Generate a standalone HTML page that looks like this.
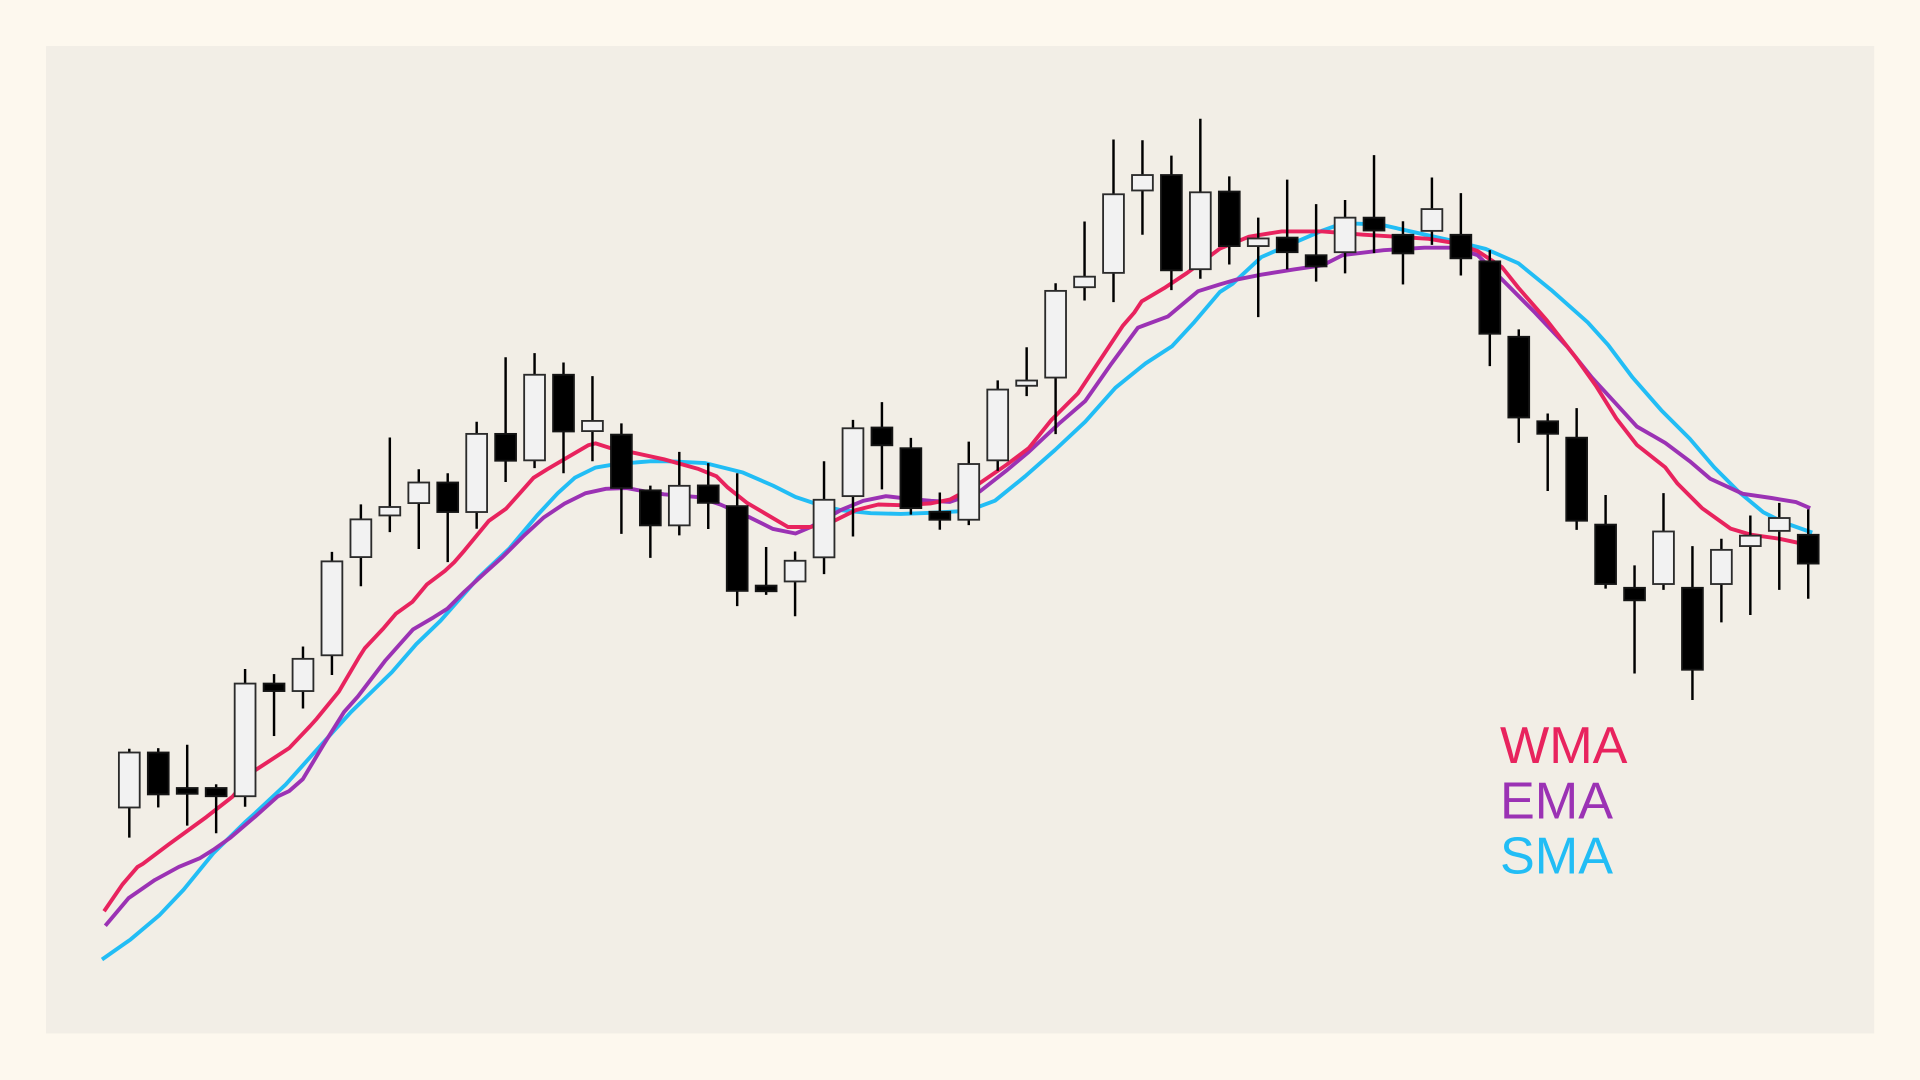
<!DOCTYPE html>
<html>
<head>
<meta charset="utf-8">
<style>
html,body{margin:0;padding:0;background:#fdf8ee;}
svg{display:block;}
.wk{stroke:#000;stroke-width:2;}
.w{fill:#f2f2f2;stroke:#2b2b2b;stroke-width:1.5;}
.b{fill:#000;stroke:#151515;stroke-width:1.5;}
.ma{fill:none;stroke-width:3.2;stroke-linejoin:round;stroke-linecap:butt;}
.lg{font-family:"Liberation Sans",sans-serif;font-size:42.6px;}
</style>
</head>
<body>
<svg width="1920" height="1080" viewBox="0 0 1568 882" xmlns="http://www.w3.org/2000/svg">
<rect x="0" y="0" width="1568" height="882" fill="#fdf8ee"/>
<rect x="37.6" y="37.6" width="1493" height="806.4" fill="#f2eee6"/>

<!-- SMA -->
<polyline class="ma" stroke="#22bdf5" points="83.3,783.6 106.7,767.2 130,747.6 150,726.5 174.2,696.8 200,671.6 208,664.4 233.3,640.7 258.6,612.4 286.7,581.4 320,549 340,526 359.8,506.9 390.7,471.8 416,447.9 438.5,421.1 455.4,402.9 469.4,390.2 486.4,381.8 503.2,379 530.8,376.7 545.2,376.7 576,378.2 606.7,385.9 631.3,396.6 649.7,405.9 668.1,412 686.6,416.6 711.2,419.1 735.7,419.7 760.3,418.8 784.9,417.5 800.3,413.5 812.6,408.9 837.2,389 861.7,367.4 886.3,344.4 910.9,316.7 935.5,296.8 957,282.9 975.4,263 996.3,238.4 1006.7,231.7 1030,210 1056.7,198.3 1080,188.3 1096.7,182.3 1126.7,183.3 1156.7,190 1186.7,196.7 1213.3,203.3 1240,215 1266.7,236.7 1296.7,263.3 1313.3,281.7 1333.3,308.3 1356.7,335 1380,358.3 1400,381.7 1420,401.7 1440,418.3 1456.7,426.7 1480,435"/>
<!-- EMA -->
<polyline class="ma" stroke="#9b32b4" points="86,756 105,733.5 126.4,718.7 146,708 163,701 174.2,694 188.2,684.1 208,667.2 226.7,650.5 236.1,646.1 247.3,636.3 264.2,608.2 281,581.4 292.3,568.8 314.8,539.3 337.3,514 354.2,504.1 365.4,497.1 379.5,483 396.4,467.5 410.4,454.9 427.3,438 444.2,422.5 461,411.3 477.9,402.9 494.8,399.2 511.7,398.6 530.8,402 542.2,403.7 569.8,405.9 588.3,412 612.8,422.8 631.3,432 649.7,435.7 662,430.4 686.6,416.6 705,409 723.5,405.2 741.9,407.4 760.3,409 775.7,409.9 800.3,401.3 821.8,384.4 840.2,369 864.8,346 886.3,327.5 907.8,296.8 929.3,267.6 953.9,258.4 978.5,237.8 996.3,232.2 1010,228.3 1030,224.3 1056.7,220 1080,216.7 1096.7,208.3 1130,204.3 1163.3,202.3 1186.7,202.3 1206.7,208.3 1226.7,228.3 1253.3,255 1280,283.3 1300,308.3 1320,330 1336.7,348.3 1360,361.7 1380,376.7 1396.7,391 1423.3,403.3 1446.7,406.7 1466.7,410 1478.3,415"/>
<!-- WMA -->
<polyline class="ma" stroke="#e8235e" points="85,744.2 100,722.3 112.3,708 116.7,705.4 137.6,689.7 168.6,667.2 190,650.5 208,629.3 236.1,611 253.3,592.9 258.6,587 276.7,564.8 281,557.5 293.3,536.6 297.9,529.4 313.3,513 323.2,501.3 336.7,491.6 348.5,477.4 363.3,466.3 371,459.1 379.5,449.3 399.2,425.4 413.2,415.5 424.5,402.9 435.7,390.2 447,383.2 463.9,373.3 480.7,363.5 486.4,362.1 497.6,365.7 514.5,369.1 542.2,375.1 569.8,382.8 585.2,389 594.4,398.2 609.8,410.5 643.6,430.4 662,430.4 680.4,425.8 698.9,416.6 717.3,412 735.7,412.6 760.3,411.1 775.7,408 797.2,396.6 821.8,379.7 840.2,365.9 858.7,342.9 880.2,321.4 898.6,293.7 917,266 926.3,255.3 932.4,246.1 950.8,235.3 969.3,223 996.3,203 1020,193.3 1046.7,189 1080,189 1113.3,191.7 1140,193.3 1166.7,195 1186.7,198.3 1206.7,205 1226.7,218.3 1240,235 1263.3,261.7 1286.7,291.7 1303.3,315 1320,341.7 1336.7,363.3 1360,381.7 1370,395 1390,415 1413.3,431.7 1430,436.7 1453.3,440 1476.7,445"/>

<!-- candles -->
<g>
<line class="wk" x1="105.6" y1="611.5" x2="105.6" y2="684.1"/><rect class="w" x="97.1" y="614.55" width="17" height="44.9"/>
<line class="wk" x1="129.24" y1="611" x2="129.24" y2="659.4"/><rect class="b" x="120.74" y="614.55" width="17" height="34.2"/>
<line class="wk" x1="152.88" y1="608.2" x2="152.88" y2="674.3"/><rect class="b" x="144.38" y="643.55" width="17" height="4.7"/>
<line class="wk" x1="176.52" y1="640.5" x2="176.52" y2="680.5"/><rect class="b" x="168.02" y="643.55" width="17" height="6.7"/>
<line class="wk" x1="200.16" y1="546.3" x2="200.16" y2="658.8"/><rect class="w" x="191.66" y="558.25" width="17" height="92"/>
<line class="wk" x1="223.8" y1="550.5" x2="223.8" y2="601.1"/><rect class="b" x="215.3" y="558.25" width="17" height="6.1"/>
<line class="wk" x1="247.44" y1="528" x2="247.44" y2="578.6"/><rect class="w" x="238.94" y="538.05" width="17" height="26.3"/>
<line class="wk" x1="271.08" y1="450.7" x2="271.08" y2="551.3"/><rect class="w" x="262.58" y="458.45" width="17" height="76.7"/>
<line class="wk" x1="294.72" y1="411.9" x2="294.72" y2="478.8"/><rect class="w" x="286.22" y="424.15" width="17" height="30.8"/>
<line class="wk" x1="318.36" y1="357.3" x2="318.36" y2="434.6"/><rect class="w" x="309.86" y="414.05" width="17" height="6.9"/>
<line class="wk" x1="342" y1="383.2" x2="342" y2="448.4"/><rect class="w" x="333.5" y="394.05" width="17" height="16.8"/>
<line class="wk" x1="365.64" y1="386.5" x2="365.64" y2="459.1"/><rect class="b" x="357.14" y="394.05" width="17" height="24.1"/>
<line class="wk" x1="389.28" y1="344.4" x2="389.28" y2="431.8"/><rect class="w" x="380.78" y="354.35" width="17" height="63.8"/>
<line class="wk" x1="412.92" y1="291.8" x2="412.92" y2="393.6"/><rect class="b" x="404.42" y="354.35" width="17" height="21.9"/>
<line class="wk" x1="436.56" y1="288.4" x2="436.56" y2="382.3"/><rect class="w" x="428.06" y="306.05" width="17" height="69.9"/>
<line class="wk" x1="460.2" y1="296" x2="460.2" y2="386.5"/><rect class="b" x="451.7" y="306.05" width="17" height="46.3"/>
<line class="wk" x1="483.84" y1="307.2" x2="483.84" y2="376.7"/><rect class="w" x="475.34" y="343.75" width="17" height="8.3"/>
<line class="wk" x1="507.48" y1="345.8" x2="507.48" y2="436"/><rect class="b" x="498.98" y="354.95" width="17" height="43.5"/>
<line class="wk" x1="531.12" y1="396.6" x2="531.12" y2="455.6"/><rect class="b" x="522.62" y="400.45" width="17" height="28.6"/>
<line class="wk" x1="554.76" y1="369" x2="554.76" y2="437.2"/><rect class="w" x="546.26" y="396.75" width="17" height="32.3"/>
<line class="wk" x1="578.4" y1="378.2" x2="578.4" y2="432"/><rect class="b" x="569.9" y="396.45" width="17" height="14.2"/>
<line class="wk" x1="602.04" y1="386.5" x2="602.04" y2="495"/><rect class="b" x="593.54" y="413.35" width="17" height="69.2"/>
<line class="wk" x1="625.68" y1="446.7" x2="625.68" y2="485.8"/><rect class="b" x="617.18" y="478.25" width="17" height="4.6"/>
<line class="wk" x1="649.32" y1="450.4" x2="649.32" y2="503.3"/><rect class="w" x="640.82" y="457.95" width="17" height="16.9"/>
<line class="wk" x1="672.96" y1="376.7" x2="672.96" y2="468.9"/><rect class="w" x="664.46" y="408.15" width="17" height="47"/>
<line class="wk" x1="696.6" y1="342.9" x2="696.6" y2="438.1"/><rect class="w" x="688.1" y="349.75" width="17" height="55.4"/>
<line class="wk" x1="720.24" y1="328.4" x2="720.24" y2="399.7"/><rect class="b" x="711.74" y="349.15" width="17" height="14.5"/>
<line class="wk" x1="743.88" y1="357.6" x2="743.88" y2="420.3"/><rect class="b" x="735.38" y="366.05" width="17" height="48.9"/>
<line class="wk" x1="767.52" y1="402.2" x2="767.52" y2="432.6"/><rect class="b" x="759.02" y="417.95" width="17" height="6.5"/>
<line class="wk" x1="791.16" y1="360.7" x2="791.16" y2="428.9"/><rect class="w" x="782.66" y="378.95" width="17" height="45.5"/>
<line class="wk" x1="814.8" y1="310.6" x2="814.8" y2="384.4"/><rect class="w" x="806.3" y="318.15" width="17" height="57.8"/>
<line class="wk" x1="838.44" y1="283.6" x2="838.44" y2="323.5"/><rect class="w" x="829.94" y="310.75" width="17" height="4.3"/>
<line class="wk" x1="862.08" y1="231.3" x2="862.08" y2="354.5"/><rect class="w" x="853.58" y="237.55" width="17" height="70.8"/>
<line class="wk" x1="885.72" y1="180.9" x2="885.72" y2="245.4"/><rect class="w" x="877.22" y="225.95" width="17" height="8.6"/>
<line class="wk" x1="909.36" y1="113.9" x2="909.36" y2="246.7"/><rect class="w" x="900.86" y="158.65" width="17" height="64.2"/>
<line class="wk" x1="933" y1="114.5" x2="933" y2="191.7"/><rect class="w" x="924.5" y="142.95" width="17" height="12.6"/>
<line class="wk" x1="956.64" y1="127.1" x2="956.64" y2="236.9"/><rect class="b" x="948.14" y="142.95" width="17" height="77.8"/>
<line class="wk" x1="980.28" y1="97" x2="980.28" y2="227.6"/><rect class="w" x="971.78" y="157.05" width="17" height="62.8"/>
<line class="wk" x1="1003.92" y1="144" x2="1003.92" y2="216"/><rect class="b" x="995.42" y="156.45" width="17" height="44.5"/>
<line class="wk" x1="1027.56" y1="177.7" x2="1027.56" y2="259"/><rect class="w" x="1019.06" y="194.75" width="17" height="6.2"/>
<line class="wk" x1="1051.2" y1="146.7" x2="1051.2" y2="220"/><rect class="b" x="1042.7" y="194.05" width="17" height="11.9"/>
<line class="wk" x1="1074.84" y1="166.7" x2="1074.84" y2="230"/><rect class="b" x="1066.34" y="208.45" width="17" height="9.1"/>
<line class="wk" x1="1098.48" y1="163.3" x2="1098.48" y2="223.3"/><rect class="w" x="1089.98" y="177.75" width="17" height="28.2"/>
<line class="wk" x1="1122.12" y1="126.7" x2="1122.12" y2="206.7"/><rect class="b" x="1113.62" y="177.75" width="17" height="10.5"/>
<line class="wk" x1="1145.76" y1="180.7" x2="1145.76" y2="232.3"/><rect class="b" x="1137.26" y="191.75" width="17" height="15.2"/>
<line class="wk" x1="1169.4" y1="145" x2="1169.4" y2="200"/><rect class="w" x="1160.9" y="170.75" width="17" height="17.8"/>
<line class="wk" x1="1193.04" y1="157.7" x2="1193.04" y2="225"/><rect class="b" x="1184.54" y="191.75" width="17" height="19.2"/>
<line class="wk" x1="1216.68" y1="204.3" x2="1216.68" y2="299"/><rect class="b" x="1208.18" y="213.45" width="17" height="59.1"/>
<line class="wk" x1="1240.32" y1="269" x2="1240.32" y2="361.7"/><rect class="b" x="1231.82" y="275.05" width="17" height="65.9"/>
<line class="wk" x1="1263.96" y1="337.7" x2="1263.96" y2="401"/><rect class="b" x="1255.46" y="344.05" width="17" height="10.2"/>
<line class="wk" x1="1287.6" y1="333.3" x2="1287.6" y2="432.7"/><rect class="b" x="1279.1" y="357.45" width="17" height="67.8"/>
<line class="wk" x1="1311.24" y1="404.3" x2="1311.24" y2="480.7"/><rect class="b" x="1302.74" y="428.45" width="17" height="48.5"/>
<line class="wk" x1="1334.88" y1="461.7" x2="1334.88" y2="550"/><rect class="b" x="1326.38" y="480.05" width="17" height="10.2"/>
<line class="wk" x1="1358.52" y1="402.7" x2="1358.52" y2="481.7"/><rect class="w" x="1350.02" y="434.05" width="17" height="42.9"/>
<line class="wk" x1="1382.16" y1="446" x2="1382.16" y2="571.7"/><rect class="b" x="1373.66" y="480.05" width="17" height="66.9"/>
<line class="wk" x1="1405.8" y1="440" x2="1405.8" y2="508.3"/><rect class="w" x="1397.3" y="449.05" width="17" height="27.9"/>
<line class="wk" x1="1429.44" y1="421" x2="1429.44" y2="502.3"/><rect class="w" x="1420.94" y="437.45" width="17" height="8.5"/>
<line class="wk" x1="1453.08" y1="410.7" x2="1453.08" y2="481.7"/><rect class="w" x="1444.58" y="423.05" width="17" height="10.5"/>
<line class="wk" x1="1476.72" y1="416" x2="1476.72" y2="489"/><rect class="b" x="1468.22" y="436.75" width="17" height="23.5"/>
</g>

<!-- legend -->
<text class="lg" x="1225" y="623.3" fill="#e8235e">WMA</text>
<text class="lg" x="1225" y="668.3" fill="#9b32b4">EMA</text>
<text class="lg" x="1225" y="713.3" fill="#22bdf5">SMA</text>
</svg>
</body>
</html>
